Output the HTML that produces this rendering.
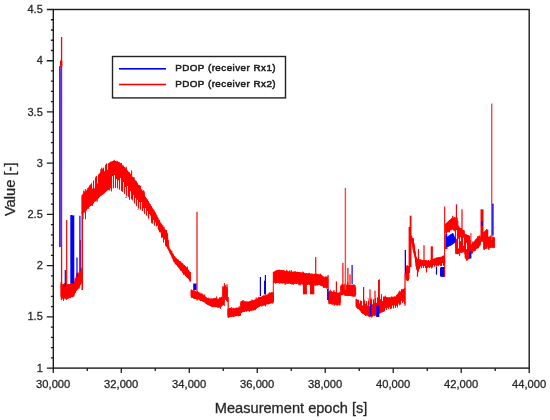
<!DOCTYPE html><html><head><meta charset="utf-8"><style>html,body{margin:0;padding:0;background:#fff;width:550px;height:420px;overflow:hidden}svg{display:block}text{font-family:"Liberation Sans",Arial,sans-serif;fill:#222;stroke:#333;stroke-width:0.3px}</style></head><body>
<svg width="550" height="420" viewBox="0 0 550 420">
<path d="M59.2,66.1 L59.7,66.2 L60.2,66.1 L60.7,66.0 L60.7,246.9 L60.2,246.9 L59.7,247.0 L59.2,247.0Z" fill="#00f"/>
<path d="M70.3,215.0 L70.8,215.0 L71.3,215.1 L71.8,215.0 L72.3,215.2 L72.8,215.2 L73.3,215.5 L73.8,215.4 L74.3,215.0 L74.3,286.7 L73.8,286.7 L73.3,286.7 L72.8,286.6 L72.3,286.3 L71.8,286.7 L71.3,286.4 L70.8,286.7 L70.3,286.6Z" fill="#00f"/>
<path d="M440.0,267.9 L440.5,267.9 L441.0,268.1 L441.5,268.1 L442.0,267.9 L442.5,268.1 L443.0,267.9 L443.5,268.0 L444.0,268.2 L444.5,267.9 L445.0,268.0 L445.0,276.0 L444.5,276.2 L444.0,276.2 L443.5,276.4 L443.0,276.2 L442.5,276.3 L442.0,276.4 L441.5,276.4 L441.0,276.3 L440.5,276.2 L440.0,276.1Z" fill="#00f"/>
<path d="M60.8,284.5 L61.3,285.0 L61.8,284.2 L62.3,284.0 L62.8,284.0 L63.3,284.6 L63.8,284.8 L64.3,284.5 L64.8,284.3 L65.3,284.7 L65.8,284.2 L66.3,284.0 L66.8,284.4 L67.3,284.7 L67.8,284.1 L68.3,284.0 L68.8,284.0 L69.3,284.0 L69.8,284.0 L70.3,284.1 L70.8,283.8 L71.3,284.0 L71.8,284.2 L72.3,283.5 L72.8,283.4 L73.3,284.1 L73.8,283.1 L74.3,282.0 L74.8,280.5 L75.3,278.5 L75.8,276.8 L76.3,276.5 L76.8,275.1 L77.3,274.6 L77.8,274.2 L78.3,273.5 L78.8,272.2 L79.3,271.3 L79.8,270.5 L80.3,269.7 L80.8,268.9 L81.3,267.9 L81.8,267.0 L81.8,282.9 L81.3,283.8 L80.8,284.7 L80.3,285.6 L79.8,286.5 L79.3,286.9 L78.8,287.8 L78.3,288.1 L77.8,288.8 L77.3,290.1 L76.8,290.5 L76.3,291.1 L75.8,292.1 L75.3,293.2 L74.8,294.3 L74.3,295.2 L73.8,296.1 L73.3,296.4 L72.8,296.0 L72.3,296.9 L71.8,296.6 L71.3,296.9 L70.8,297.8 L70.3,297.6 L69.8,298.5 L69.3,298.0 L68.8,298.6 L68.3,298.5 L67.8,298.3 L67.3,298.8 L66.8,297.9 L66.3,298.5 L65.8,298.6 L65.3,298.1 L64.8,298.8 L64.3,298.6 L63.8,298.9 L63.3,298.7 L62.8,298.6 L62.3,298.8 L61.8,298.4 L61.3,299.0 L60.8,298.9Z" fill="#f00"/>
<path d="M60.8,282.2 61.1,296.7 61.4,284.9 61.7,297.6 62.0,284.0 62.3,297.4 62.6,284.3 62.9,297.7 63.2,287.1 63.5,300.8 63.8,286.0 64.1,297.0 64.4,283.0 64.7,296.3 65.0,284.9 65.3,299.2 65.6,284.8 65.9,297.8 66.2,283.9 66.5,296.7 66.8,286.1 67.1,298.2 67.4,285.3 67.7,298.7 68.0,284.2 68.3,295.3 68.6,284.4 68.9,295.2 69.2,284.8 69.5,297.9 69.8,284.2 70.1,295.5 70.4,285.0 70.7,298.2 71.0,285.8 71.3,295.2 71.6,283.0 71.9,297.0 72.2,286.7 72.5,297.2 72.8,285.7 73.1,296.1 73.4,284.9 73.7,296.6 74.0,285.7 74.3,294.4 74.6,281.4 74.9,291.1 75.2,278.3 75.5,292.7 75.8,279.9 76.1,290.9 76.4,276.0 76.7,290.0 77.0,272.7 77.3,288.8 77.6,273.7 77.9,289.3 78.2,274.6 78.5,286.3 78.8,273.8 79.1,288.5 79.4,271.7 79.7,284.0 80.0,271.2 80.3,284.3 80.6,269.2 80.9,283.6 81.2,270.9 81.5,282.1 81.8,270.5" fill="none" stroke="#f00" stroke-width="0.8"/>
<path d="M81.8,195.9 L82.3,195.2 L82.8,194.6 L83.3,194.1 L83.8,193.8 L84.3,193.7 L84.8,192.5 L85.3,192.3 L85.8,191.1 L86.3,190.4 L86.8,189.8 L87.3,189.9 L87.8,188.5 L88.3,188.2 L88.8,187.7 L89.3,186.2 L89.8,185.5 L90.3,185.6 L90.8,183.9 L91.3,183.5 L91.8,182.6 L92.3,182.4 L92.8,181.5 L93.3,180.5 L93.8,180.2 L94.3,179.1 L94.8,179.2 L95.3,178.0 L95.8,177.3 L96.3,176.8 L96.8,176.3 L97.3,176.2 L97.8,175.0 L98.3,174.7 L98.8,173.8 L99.3,173.7 L99.8,172.7 L100.3,172.6 L100.8,171.6 L101.3,171.1 L101.8,170.6 L102.3,169.8 L102.8,168.8 L103.3,168.2 L103.8,167.1 L104.3,166.3 L104.8,165.6 L105.3,165.2 L105.8,164.2 L106.3,163.8 L106.8,163.6 L107.3,163.8 L107.8,163.1 L108.3,163.7 L108.8,163.2 L109.3,162.6 L109.8,162.2 L110.3,162.4 L110.8,161.9 L111.3,162.1 L111.8,161.6 L112.3,161.3 L112.8,161.1 L113.3,161.0 L113.8,160.8 L114.3,161.5 L114.8,160.9 L115.3,160.9 L115.8,160.9 L116.3,161.0 L116.8,161.9 L117.3,161.2 L117.8,161.6 L118.3,161.8 L118.8,162.3 L119.3,162.4 L119.8,162.7 L120.3,163.0 L120.8,163.2 L121.3,163.6 L121.8,164.3 L122.3,165.0 L122.8,165.4 L123.3,165.5 L123.8,166.8 L124.3,166.9 L124.8,166.8 L125.3,168.2 L125.8,168.5 L126.3,168.6 L126.8,169.5 L127.3,170.5 L127.8,170.8 L128.3,171.5 L128.8,171.7 L129.3,172.3 L129.8,172.9 L130.3,173.9 L130.8,174.6 L131.3,175.1 L131.8,176.1 L132.3,176.4 L132.8,177.2 L133.3,177.9 L133.8,178.0 L134.3,179.2 L134.8,179.8 L135.3,180.1 L135.8,180.7 L136.3,181.7 L136.8,182.2 L137.3,182.5 L137.8,183.8 L138.3,184.4 L138.8,184.9 L139.3,186.1 L139.8,186.9 L140.3,187.5 L140.8,188.3 L141.3,189.6 L141.8,190.6 L142.3,190.6 L142.8,192.1 L143.3,192.5 L143.8,193.2 L144.3,194.0 L144.8,194.9 L145.3,196.6 L145.8,197.3 L146.3,198.2 L146.8,198.4 L147.3,199.4 L147.8,200.0 L148.3,201.1 L148.8,201.7 L149.3,202.6 L149.8,203.4 L150.3,204.9 L150.8,205.9 L151.3,206.6 L151.8,206.8 L152.3,208.4 L152.8,208.4 L153.3,209.2 L153.8,209.9 L154.3,210.8 L154.8,211.6 L155.3,212.6 L155.8,213.3 L156.3,215.0 L156.8,215.6 L157.3,217.0 L157.8,217.7 L158.3,218.7 L158.8,219.7 L159.3,220.2 L159.8,221.9 L160.3,222.2 L160.8,223.1 L161.3,224.9 L161.8,225.3 L162.3,226.1 L162.8,226.5 L163.3,227.0 L163.8,227.8 L164.3,228.9 L164.8,228.9 L165.3,229.3 L165.8,229.9 L166.3,230.6 L166.8,231.8 L167.3,233.0 L167.8,235.2 L168.3,240.1 L168.8,245.0 L169.3,248.4 L169.8,248.6 L170.3,249.9 L170.8,250.0 L171.3,250.9 L171.8,252.5 L172.3,253.2 L172.8,253.2 L173.3,254.9 L173.8,255.2 L174.3,255.9 L174.8,256.9 L175.3,257.7 L175.8,257.2 L176.3,258.0 L176.8,259.1 L177.3,259.2 L177.8,259.5 L178.3,259.8 L178.8,260.3 L179.3,261.2 L179.8,261.3 L180.3,262.2 L180.8,262.3 L181.3,263.1 L181.8,263.3 L182.3,263.9 L182.8,264.0 L183.3,265.2 L183.8,265.4 L184.3,265.0 L184.8,266.3 L185.3,265.8 L185.8,266.4 L186.3,266.9 L186.8,267.8 L187.3,268.0 L187.8,268.6 L188.3,269.6 L188.8,270.4 L189.3,270.6 L189.8,271.9 L190.3,272.2 L190.3,281.5 L189.8,280.8 L189.3,280.3 L188.8,279.2 L188.3,279.1 L187.8,278.3 L187.3,277.9 L186.8,276.5 L186.3,276.7 L185.8,275.7 L185.3,275.6 L184.8,274.5 L184.3,274.4 L183.8,273.7 L183.3,273.0 L182.8,272.7 L182.3,272.4 L181.8,271.8 L181.3,270.9 L180.8,270.7 L180.3,269.6 L179.8,269.4 L179.3,268.8 L178.8,267.4 L178.3,267.1 L177.8,266.8 L177.3,265.9 L176.8,265.4 L176.3,264.8 L175.8,264.7 L175.3,264.0 L174.8,262.8 L174.3,262.0 L173.8,261.8 L173.3,260.4 L172.8,259.0 L172.3,258.4 L171.8,256.6 L171.3,256.0 L170.8,255.0 L170.3,253.9 L169.8,252.4 L169.3,251.7 L168.8,250.5 L168.3,249.4 L167.8,248.2 L167.3,247.6 L166.8,246.7 L166.3,247.1 L165.8,246.6 L165.3,245.6 L164.8,244.6 L164.3,242.7 L163.8,242.7 L163.3,240.9 L162.8,240.8 L162.3,239.6 L161.8,238.3 L161.3,236.9 L160.8,235.0 L160.3,234.1 L159.8,232.8 L159.3,231.7 L158.8,230.4 L158.3,229.8 L157.8,229.2 L157.3,228.1 L156.8,226.7 L156.3,226.0 L155.8,225.0 L155.3,225.3 L154.8,224.7 L154.3,223.4 L153.8,223.1 L153.3,223.3 L152.8,222.6 L152.3,222.0 L151.8,221.6 L151.3,221.2 L150.8,220.3 L150.3,220.3 L149.8,219.2 L149.3,218.6 L148.8,218.7 L148.3,218.2 L147.8,217.5 L147.3,217.2 L146.8,215.9 L146.3,215.6 L145.8,215.3 L145.3,215.1 L144.8,214.3 L144.3,213.7 L143.8,212.4 L143.3,212.5 L142.8,211.0 L142.3,211.0 L141.8,209.7 L141.3,209.9 L140.8,209.6 L140.3,209.0 L139.8,208.8 L139.3,208.1 L138.8,208.2 L138.3,207.9 L137.8,207.5 L137.3,207.1 L136.8,206.7 L136.3,205.6 L135.8,204.7 L135.3,204.3 L134.8,202.7 L134.3,202.9 L133.8,202.1 L133.3,201.4 L132.8,200.8 L132.3,200.1 L131.8,199.3 L131.3,199.5 L130.8,198.5 L130.3,198.2 L129.8,197.4 L129.3,197.5 L128.8,197.2 L128.3,196.4 L127.8,195.8 L127.3,195.6 L126.8,195.3 L126.3,195.4 L125.8,194.8 L125.3,194.8 L124.8,194.1 L124.3,193.8 L123.8,193.6 L123.3,193.0 L122.8,191.8 L122.3,191.6 L121.8,191.2 L121.3,190.9 L120.8,190.7 L120.3,190.2 L119.8,190.1 L119.3,189.6 L118.8,189.3 L118.3,189.2 L117.8,188.9 L117.3,187.8 L116.8,188.3 L116.3,187.5 L115.8,188.2 L115.3,188.0 L114.8,188.1 L114.3,187.6 L113.8,187.3 L113.3,188.1 L112.8,187.8 L112.3,188.4 L111.8,188.4 L111.3,188.3 L110.8,188.1 L110.3,188.0 L109.8,188.9 L109.3,188.8 L108.8,189.7 L108.3,190.2 L107.8,190.3 L107.3,190.6 L106.8,191.2 L106.3,191.6 L105.8,191.9 L105.3,192.3 L104.8,192.8 L104.3,193.4 L103.8,193.9 L103.3,194.3 L102.8,194.9 L102.3,194.5 L101.8,195.8 L101.3,195.6 L100.8,196.1 L100.3,196.6 L99.8,196.7 L99.3,197.8 L98.8,198.4 L98.3,198.4 L97.8,198.6 L97.3,199.9 L96.8,199.6 L96.3,200.9 L95.8,200.9 L95.3,201.9 L94.8,201.5 L94.3,202.0 L93.8,203.2 L93.3,203.8 L92.8,204.2 L92.3,204.9 L91.8,205.2 L91.3,205.7 L90.8,206.1 L90.3,206.0 L89.8,207.0 L89.3,206.8 L88.8,207.3 L88.3,208.7 L87.8,208.7 L87.3,209.0 L86.8,210.0 L86.3,211.1 L85.8,211.7 L85.3,212.6 L84.8,212.1 L84.3,212.9 L83.8,212.2 L83.3,212.1 L82.8,212.7 L82.3,212.5 L81.8,212.7Z" fill="#f00"/>
<path d="M81.8,195.2 82.1,213.9 82.4,197.1 82.7,212.1 83.0,194.0 83.3,212.4 83.6,190.7 83.9,212.3 84.2,193.1 84.5,210.3 84.8,191.5 85.1,208.0 85.4,189.0 85.7,208.1 86.0,194.2 86.3,209.3 86.6,191.0 86.9,208.9 87.2,194.3 87.5,204.6 87.8,188.3 88.1,204.7 88.4,187.6 88.7,208.6 89.0,187.5 89.3,202.9 89.6,185.8 89.9,202.9 90.2,184.9 90.5,201.4 90.8,184.9 91.1,204.1 91.4,187.8 91.7,204.8 92.0,184.0 92.3,206.0 92.6,185.9 92.9,198.8 93.2,181.7 93.5,201.1 93.8,182.0 94.1,200.8 94.4,184.6 94.7,198.9 95.0,181.4 95.3,198.4 95.6,179.4 95.9,196.6 96.2,176.4 96.5,199.2 96.8,175.9 97.1,201.5 97.4,175.7 97.7,197.9 98.0,175.0 98.3,194.7 98.6,175.3 98.9,195.3 99.2,175.2 99.5,193.7 99.8,177.9 100.1,193.9 100.4,176.7 100.7,195.3 101.0,169.0 101.3,192.8 101.6,167.8 101.9,192.6 102.2,173.9 102.5,188.8 102.8,169.2 103.1,191.8 103.4,168.0 103.7,193.2 104.0,172.6 104.3,187.2 104.6,171.5 104.9,192.5 105.2,171.4 105.5,188.7 105.8,165.4 106.1,190.7 106.4,164.7 106.7,186.8 107.0,163.4 107.3,186.2 107.6,165.3 107.9,185.4 108.2,163.3 108.5,187.7 108.8,166.9 109.1,189.5 109.4,165.0 109.7,190.5 110.0,163.5 110.3,186.6 110.6,161.8 110.9,186.3 111.2,166.5 111.5,191.3 111.8,161.6 112.1,188.2 112.4,164.3 112.7,188.6 113.0,161.3 113.3,188.2 113.6,163.0 113.9,187.1 114.2,159.9 114.5,187.6 114.8,161.0 115.1,186.9 115.4,161.8 115.7,185.0 116.0,167.1 116.3,182.8 116.6,166.6 116.9,183.2 117.2,160.8 117.5,183.2 117.8,162.8 118.1,185.7 118.4,162.7 118.7,187.2 119.0,161.9 119.3,184.6 119.6,168.3 119.9,186.4 120.2,167.1 120.5,188.1 120.8,165.0 121.1,187.9 121.4,162.9 121.7,188.0 122.0,167.2 122.3,188.8 122.6,168.0 122.9,191.9 123.2,165.7 123.5,189.8 123.8,170.3 124.1,190.4 124.4,170.0 124.7,191.2 125.0,173.7 125.3,193.3 125.6,170.1 125.9,198.0 126.2,166.8 126.5,189.7 126.8,170.1 127.1,195.8 127.4,174.9 127.7,190.7 128.0,176.0 128.3,196.4 128.6,172.7 128.9,194.1 129.2,172.4 129.5,199.7 129.8,173.6 130.1,198.7 130.4,174.0 130.7,195.0 131.0,179.3 131.3,198.1 131.6,170.6 131.9,196.2 132.2,180.8 132.5,195.0 132.8,177.1 133.1,198.5 133.4,182.0 133.7,197.1 134.0,177.1 134.3,200.1 134.6,180.9 134.9,203.6 135.2,183.3 135.5,204.0 135.8,181.3 136.1,201.6 136.4,181.2 136.7,205.9 137.0,182.8 137.3,203.6 137.6,186.5 137.9,209.6 138.2,185.4 138.5,208.0 138.8,188.0 139.1,206.1 139.4,185.0 139.7,205.7 140.0,190.2 140.3,205.1 140.6,185.9 140.9,209.7 141.2,190.8 141.5,211.0 141.8,189.3 142.1,206.1 142.4,191.1 142.7,209.7 143.0,195.9 143.3,211.1 143.6,190.3 143.9,210.3 144.2,191.6 144.5,210.7 144.8,198.3 145.1,213.8 145.4,197.0 145.7,214.8 146.0,198.1 146.3,212.8 146.6,200.4 146.9,213.4 147.2,199.5 147.5,213.1 147.8,203.9 148.1,216.9 148.4,201.2 148.7,215.5 149.0,205.7 149.3,220.0 149.6,204.8 149.9,219.4 150.2,204.1 150.5,219.0 150.8,205.8 151.1,218.9 151.4,206.3 151.7,223.0 152.0,207.5 152.3,223.6 152.6,209.2 152.9,222.8 153.2,210.9 153.5,221.7 153.8,209.8 154.1,223.8 154.4,211.8 154.7,225.6 155.0,212.6 155.3,225.0 155.6,213.2 155.9,224.2 156.2,214.7 156.5,225.1 156.8,215.5 157.1,225.7 157.4,217.2 157.7,229.0 158.0,217.7 158.3,228.9 158.6,221.4 158.9,228.8 159.2,219.9 159.5,231.4 159.8,221.5 160.1,232.0 160.4,224.9 160.7,232.7 161.0,223.3 161.3,236.3 161.6,224.3 161.9,237.8 162.2,226.1 162.5,240.0 162.8,224.9 163.1,240.3 163.4,229.5 163.7,242.5 164.0,226.8 164.3,241.9 164.6,230.9 164.9,243.3 165.2,232.7 165.5,242.3 165.8,230.6 166.1,243.4 166.4,230.1 166.7,246.6 167.0,232.8 167.3,245.3 167.6,234.3 167.9,249.1 168.2,240.0 168.5,249.6 168.8,245.9 169.1,251.1 169.4,248.6 169.7,252.4 170.0,248.9 170.3,253.7 170.6,249.9 170.9,254.6 171.2,251.0 171.5,255.5 171.8,250.7 172.1,257.8 172.4,253.5 172.7,258.2 173.0,253.6 173.3,260.5 173.6,255.2 173.9,261.7 174.2,256.7 174.5,262.0 174.8,256.3 175.1,263.4 175.4,258.4 175.7,263.9 176.0,258.2 176.3,264.6 176.6,259.1 176.9,264.6 177.2,259.8 177.5,266.3 177.8,259.4 178.1,266.2 178.4,261.1 178.7,267.4 179.0,261.7 179.3,268.4 179.6,261.1 179.9,268.0 180.2,261.1 180.5,270.4 180.8,261.9 181.1,269.1 181.4,262.9 181.7,270.9 182.0,264.1 182.3,270.6 182.6,263.1 182.9,272.8 183.2,264.4 183.5,274.7 183.8,265.5 184.1,273.7 184.4,265.0 184.7,274.3 185.0,266.3 185.3,275.5 185.6,268.1 185.9,276.3 186.2,267.6 186.5,277.2 186.8,269.0 187.1,276.7 187.4,266.7 187.7,277.8 188.0,269.8 188.3,278.0 188.6,270.9 188.9,277.8 189.2,272.3 189.5,279.6 189.8,272.0 190.1,281.7 190.4,272.3 190.7,281.3" fill="none" stroke="#f00" stroke-width="0.8"/>
<path d="M190.9,289.2 L191.4,289.7 L191.9,290.3 L192.4,289.7 L192.9,290.7 L193.4,290.1 L193.9,290.7 L194.4,290.5 L194.9,291.2 L195.4,291.0 L195.9,291.2 L196.4,291.5 L196.9,292.4 L197.4,291.9 L197.9,292.4 L198.4,292.7 L198.9,293.1 L199.4,292.8 L199.9,293.2 L200.4,293.4 L200.9,293.7 L201.4,293.7 L201.9,294.2 L202.4,294.5 L202.9,294.9 L203.4,295.3 L203.9,295.3 L204.4,295.9 L204.9,296.5 L205.4,296.5 L205.9,297.6 L206.4,297.5 L206.9,297.4 L207.4,298.2 L207.9,298.2 L208.4,298.7 L208.9,299.4 L209.4,299.0 L209.9,298.5 L210.4,298.4 L210.9,298.5 L211.4,298.2 L211.9,298.2 L212.4,298.7 L212.9,298.6 L213.4,298.2 L213.9,298.3 L214.4,298.5 L214.9,298.3 L215.4,298.3 L215.9,298.7 L216.4,298.3 L216.9,299.2 L217.4,298.5 L217.9,298.5 L218.4,299.4 L218.9,298.8 L219.4,298.9 L219.9,298.1 L220.4,297.9 L220.9,297.5 L220.9,307.5 L220.4,307.3 L219.9,307.3 L219.4,307.5 L218.9,307.3 L218.4,307.6 L217.9,307.8 L217.4,307.7 L216.9,307.4 L216.4,307.1 L215.9,306.9 L215.4,307.1 L214.9,307.3 L214.4,306.6 L213.9,306.2 L213.4,307.0 L212.9,306.8 L212.4,306.8 L211.9,306.4 L211.4,306.4 L210.9,305.8 L210.4,306.0 L209.9,305.4 L209.4,305.6 L208.9,305.8 L208.4,305.3 L207.9,304.3 L207.4,304.0 L206.9,304.1 L206.4,303.8 L205.9,303.8 L205.4,303.3 L204.9,302.4 L204.4,302.5 L203.9,301.7 L203.4,301.3 L202.9,301.5 L202.4,301.4 L201.9,301.0 L201.4,300.7 L200.9,300.5 L200.4,299.7 L199.9,299.8 L199.4,299.7 L198.9,299.4 L198.4,299.1 L197.9,299.2 L197.4,298.9 L196.9,298.9 L196.4,299.4 L195.9,298.7 L195.4,299.1 L194.9,299.0 L194.4,298.0 L193.9,298.8 L193.4,298.0 L192.9,297.9 L192.4,297.7 L191.9,297.5 L191.4,298.0 L190.9,297.6Z" fill="#f00"/>
<path d="M190.9,290.4 191.2,296.4 191.5,289.7 191.8,297.4 192.1,290.9 192.4,297.1 192.7,291.0 193.0,297.9 193.3,290.7 193.6,298.3 193.9,290.2 194.2,298.8 194.5,292.1 194.8,297.1 195.1,290.8 195.4,298.9 195.7,293.0 196.0,298.5 196.3,292.7 196.6,299.2 196.9,291.3 197.2,300.4 197.5,291.1 197.8,299.5 198.1,293.5 198.4,298.5 198.7,291.9 199.0,299.3 199.3,294.0 199.6,299.4 199.9,292.6 200.2,300.9 200.5,294.5 200.8,300.7 201.1,294.9 201.4,300.4 201.7,293.2 202.0,300.3 202.3,294.7 202.6,301.0 202.9,294.3 203.2,301.5 203.5,296.1 203.8,302.1 204.1,296.6 204.4,301.8 204.7,294.6 205.0,302.5 205.3,296.7 205.6,302.4 205.9,297.8 206.2,303.9 206.5,297.5 206.8,304.1 207.1,299.0 207.4,304.9 207.7,298.5 208.0,304.5 208.3,297.7 208.6,304.9 208.9,299.6 209.2,304.8 209.5,298.6 209.8,305.4 210.1,298.7 210.4,306.2 210.7,300.1 211.0,305.4 211.3,299.1 211.6,306.5 211.9,299.7 212.2,307.2 212.5,299.7 212.8,306.5 213.1,299.8 213.4,306.2 213.7,298.4 214.0,307.1 214.3,298.7 214.6,306.5 214.9,298.5 215.2,305.1 215.5,298.1 215.8,305.7 216.1,299.6 216.4,306.4 216.7,296.5 217.0,305.8 217.3,299.8 217.6,306.0 217.9,300.0 218.2,307.2 218.5,299.2 218.8,307.5 219.1,298.5 219.4,307.3 219.7,297.2 220.0,305.4 220.3,298.9 220.6,308.6 220.9,297.5 221.0,307.1" fill="none" stroke="#f00" stroke-width="0.8"/>
<path d="M221.1,296.8 L221.6,296.5 L222.1,297.0 L222.1,305.3 L221.6,306.6 L221.1,306.8Z" fill="#f00"/>
<path d="M221.1,297.0 221.4,306.1 221.7,297.0 222.0,304.2 222.3,297.5 222.5,305.8" fill="none" stroke="#f00" stroke-width="0.8"/>
<path d="M222.6,286.0 L223.1,286.6 L223.6,286.5 L224.1,286.3 L224.1,304.6 L223.6,305.4 L223.1,304.9 L222.6,306.0Z" fill="#f00"/>
<path d="M222.6,286.5 222.9,304.6 223.2,288.4 223.5,304.4 223.8,289.3 224.1,301.8 224.4,283.1 224.5,306.1" fill="none" stroke="#f00" stroke-width="0.8"/>
<path d="M224.6,286.8 L225.1,286.2 L225.6,286.3 L226.1,287.2 L226.6,286.9 L227.1,287.5 L227.6,287.4 L227.6,301.0 L227.1,300.6 L226.6,300.6 L226.1,300.1 L225.6,299.5 L225.1,300.0 L224.6,299.2Z" fill="#f00"/>
<path d="M224.6,286.8 224.9,297.8 225.2,284.9 225.5,299.4 225.8,286.9 226.1,297.6 226.4,287.0 226.7,301.0 227.0,284.4 227.3,302.0 227.6,289.3" fill="none" stroke="#f00" stroke-width="0.8"/>
<path d="M227.8,308.6 L228.3,308.4 L228.8,308.5 L229.3,309.3 L229.8,308.3 L230.3,309.0 L230.8,308.7 L231.3,309.1 L231.8,308.8 L232.3,308.1 L232.8,308.8 L233.3,308.1 L233.8,308.8 L234.3,308.3 L234.8,307.9 L235.3,308.3 L235.8,307.7 L236.3,308.0 L236.8,307.6 L237.3,307.9 L237.8,308.1 L238.3,307.4 L238.8,307.8 L239.3,307.7 L239.8,307.8 L240.3,307.7 L240.3,315.3 L239.8,315.9 L239.3,316.1 L238.8,315.9 L238.3,316.1 L237.8,315.8 L237.3,315.7 L236.8,316.2 L236.3,316.0 L235.8,316.3 L235.3,316.3 L234.8,315.8 L234.3,316.4 L233.8,316.4 L233.3,316.4 L232.8,316.4 L232.3,316.8 L231.8,316.8 L231.3,317.1 L230.8,317.1 L230.3,317.3 L229.8,317.3 L229.3,316.7 L228.8,316.7 L228.3,317.7 L227.8,317.8Z" fill="#f00"/>
<path d="M227.8,309.6 228.1,315.8 228.4,310.4 228.7,317.9 229.0,309.2 229.3,316.9 229.6,308.1 229.9,316.5 230.2,308.0 230.5,316.2 230.8,308.4 231.1,316.7 231.4,307.2 231.7,314.9 232.0,309.1 232.3,315.6 232.6,310.2 232.9,316.3 233.2,307.7 233.5,316.5 233.8,309.5 234.1,316.5 234.4,309.0 234.7,314.9 235.0,309.2 235.3,316.2 235.6,308.7 235.9,315.7 236.2,308.5 236.5,315.7 236.8,307.7 237.1,314.6 237.4,307.8 237.7,315.4 238.0,309.1 238.3,316.3 238.6,309.0 238.9,315.6 239.2,306.4 239.5,315.2 239.8,307.9 240.1,316.0 240.4,307.7 240.5,315.5" fill="none" stroke="#f00" stroke-width="0.8"/>
<path d="M240.6,301.9 L241.1,301.8 L241.6,301.6 L242.1,301.4 L242.6,302.3 L243.1,302.2 L243.6,302.0 L244.1,302.1 L244.6,301.7 L245.1,301.7 L245.6,301.5 L246.1,301.5 L246.6,301.4 L247.1,302.0 L247.6,301.2 L248.1,301.0 L248.6,301.9 L249.1,301.0 L249.6,301.1 L250.1,300.8 L250.6,300.8 L251.1,300.7 L251.6,300.5 L252.1,301.1 L252.6,300.7 L253.1,300.3 L253.6,300.4 L254.1,300.3 L254.6,299.7 L255.1,299.4 L255.6,299.2 L256.1,298.8 L256.6,299.3 L257.1,298.5 L257.6,298.0 L258.1,297.8 L258.6,297.4 L259.1,297.9 L259.6,296.9 L260.1,296.9 L260.6,296.5 L261.1,297.2 L261.6,296.2 L262.1,296.1 L262.6,296.1 L263.1,296.3 L263.6,295.9 L264.1,295.8 L264.6,295.6 L265.1,295.7 L265.6,295.4 L266.1,295.0 L266.6,294.5 L267.1,294.4 L267.6,294.5 L268.1,294.1 L268.6,293.7 L269.1,293.8 L269.6,293.3 L270.1,293.1 L270.6,293.4 L271.1,292.8 L271.6,292.4 L272.1,292.2 L272.6,292.3 L273.1,292.7 L273.1,303.0 L272.6,303.2 L272.1,303.1 L271.6,303.5 L271.1,303.5 L270.6,303.1 L270.1,303.9 L269.6,303.9 L269.1,304.3 L268.6,304.3 L268.1,304.5 L267.6,304.0 L267.1,304.8 L266.6,304.2 L266.1,304.9 L265.6,305.4 L265.1,305.5 L264.6,305.1 L264.1,305.4 L263.6,305.2 L263.1,305.6 L262.6,305.2 L262.1,305.6 L261.6,306.0 L261.1,305.7 L260.6,306.3 L260.1,305.9 L259.6,306.4 L259.1,306.6 L258.6,307.1 L258.1,306.9 L257.6,306.8 L257.1,307.9 L256.6,308.5 L256.1,308.8 L255.6,308.9 L255.1,309.4 L254.6,309.9 L254.1,310.1 L253.6,310.4 L253.1,310.2 L252.6,310.4 L252.1,310.5 L251.6,310.6 L251.1,310.9 L250.6,310.8 L250.1,311.0 L249.6,311.1 L249.1,310.9 L248.6,310.9 L248.1,311.0 L247.6,311.0 L247.1,311.5 L246.6,311.5 L246.1,311.7 L245.6,311.0 L245.1,311.9 L244.6,312.0 L244.1,312.2 L243.6,311.5 L243.1,312.0 L242.6,311.9 L242.1,312.6 L241.6,312.5 L241.1,312.9 L240.6,312.9Z" fill="#f00"/>
<path d="M240.6,302.7 240.9,310.2 241.2,301.0 241.5,312.8 241.8,302.9 242.1,310.7 242.4,300.4 242.7,311.2 243.0,303.2 243.3,311.6 243.6,300.3 243.9,310.5 244.2,301.5 244.5,311.2 244.8,301.4 245.1,309.5 245.4,302.0 245.7,309.2 246.0,301.5 246.3,311.3 246.6,302.6 246.9,310.2 247.2,302.9 247.5,310.8 247.8,303.3 248.1,310.9 248.4,302.2 248.7,310.7 249.0,302.2 249.3,311.7 249.6,302.5 249.9,310.6 250.2,301.0 250.5,311.0 250.8,302.6 251.1,309.2 251.4,301.6 251.7,310.5 252.0,299.6 252.3,309.4 252.6,300.7 252.9,308.8 253.2,300.5 253.5,310.1 253.8,300.7 254.1,310.2 254.4,301.7 254.7,308.1 255.0,299.8 255.3,310.2 255.6,300.5 255.9,307.9 256.2,297.5 256.5,308.4 256.8,299.2 257.1,307.6 257.4,299.2 257.7,307.9 258.0,299.7 258.3,307.1 258.6,296.9 258.9,306.3 259.2,298.8 259.5,306.7 259.8,297.1 260.1,305.9 260.4,297.5 260.7,303.9 261.0,297.8 261.3,304.9 261.6,297.2 261.9,306.5 262.2,296.8 262.5,305.5 262.8,296.3 263.1,304.2 263.4,295.3 263.7,305.5 264.0,297.4 264.3,305.2 264.6,297.1 264.9,305.0 265.2,293.8 265.5,306.2 265.8,295.9 266.1,304.0 266.4,296.2 266.7,302.8 267.0,295.1 267.3,303.2 267.6,296.3 267.9,303.4 268.2,293.6 268.5,303.8 268.8,295.0 269.1,303.3 269.4,292.4 269.7,303.6 270.0,293.0 270.3,303.1 270.6,293.6 270.9,302.9 271.2,292.2 271.5,302.8 271.8,294.0 272.1,301.9 272.4,292.4 272.7,303.5 273.0,293.7 273.3,302.2 273.4,293.7" fill="none" stroke="#f00" stroke-width="0.8"/>
<path d="M273.5,272.1 L274.0,271.6 L274.5,271.0 L275.0,271.3 L275.5,270.6 L276.0,270.4 L276.5,270.3 L277.0,270.0 L277.5,270.2 L278.0,270.3 L278.5,269.9 L279.0,269.6 L279.5,269.6 L280.0,270.2 L280.5,269.7 L281.0,270.4 L281.5,269.8 L282.0,269.9 L282.5,270.0 L283.0,270.6 L283.5,270.6 L284.0,270.7 L284.5,270.3 L285.0,271.2 L285.5,271.3 L286.0,271.1 L286.5,271.0 L287.0,270.7 L287.5,270.9 L288.0,271.7 L288.5,271.5 L289.0,271.5 L289.5,271.2 L290.0,272.1 L290.5,271.5 L291.0,271.3 L291.5,271.6 L292.0,271.5 L292.5,272.0 L293.0,271.6 L293.5,271.8 L294.0,272.5 L294.5,271.7 L295.0,271.7 L295.5,271.8 L296.0,272.0 L296.5,271.8 L297.0,272.1 L297.5,272.4 L298.0,271.9 L298.5,272.0 L299.0,271.9 L299.5,272.0 L300.0,272.2 L300.5,272.2 L301.0,272.3 L301.5,272.2 L302.0,273.3 L302.5,272.4 L303.0,273.4 L303.5,272.6 L304.0,272.8 L304.5,273.0 L305.0,273.6 L305.5,273.3 L306.0,273.3 L306.5,273.0 L307.0,273.0 L307.5,273.7 L308.0,273.1 L308.5,273.8 L309.0,273.2 L309.5,273.9 L310.0,273.3 L310.5,273.9 L311.0,273.4 L311.5,273.4 L312.0,273.4 L312.5,273.7 L313.0,274.1 L313.5,274.3 L314.0,273.7 L314.5,273.5 L315.0,273.9 L315.5,274.1 L316.0,273.8 L316.5,273.7 L317.0,274.0 L317.5,274.4 L318.0,274.7 L318.5,274.7 L319.0,274.2 L319.5,274.5 L320.0,274.4 L320.5,275.0 L321.0,275.6 L321.5,275.1 L322.0,275.6 L322.5,275.6 L323.0,275.9 L323.5,277.0 L324.0,277.0 L324.5,277.4 L325.0,277.2 L325.5,277.0 L326.0,276.7 L326.5,277.6 L327.0,277.2 L327.5,277.0 L328.0,276.9 L328.0,288.5 L327.5,287.6 L327.0,288.1 L326.5,287.9 L326.0,287.6 L325.5,287.5 L325.0,287.7 L324.5,287.2 L324.0,286.4 L323.5,286.2 L323.0,286.5 L322.5,286.4 L322.0,286.0 L321.5,285.7 L321.0,285.6 L320.5,284.6 L320.0,284.8 L319.5,284.9 L319.0,284.7 L318.5,285.1 L318.0,284.6 L317.5,285.4 L317.0,285.5 L316.5,285.6 L316.0,284.7 L315.5,285.7 L315.0,285.6 L314.5,285.5 L314.0,285.3 L313.5,284.7 L313.0,285.0 L312.5,285.1 L312.0,285.4 L311.5,284.7 L311.0,285.1 L310.5,285.2 L310.0,285.3 L309.5,284.7 L309.0,284.6 L308.5,284.3 L308.0,284.8 L307.5,285.0 L307.0,284.5 L306.5,285.0 L306.0,285.0 L305.5,284.1 L305.0,284.5 L304.5,284.9 L304.0,284.8 L303.5,284.5 L303.0,284.4 L302.5,284.1 L302.0,284.0 L301.5,284.5 L301.0,284.4 L300.5,284.1 L300.0,284.3 L299.5,283.8 L299.0,284.2 L298.5,284.3 L298.0,284.2 L297.5,283.6 L297.0,284.1 L296.5,283.9 L296.0,283.7 L295.5,283.6 L295.0,284.0 L294.5,283.5 L294.0,284.2 L293.5,284.1 L293.0,284.2 L292.5,283.9 L292.0,284.3 L291.5,284.3 L291.0,284.1 L290.5,284.1 L290.0,283.8 L289.5,283.8 L289.0,283.4 L288.5,284.0 L288.0,283.9 L287.5,283.6 L287.0,283.4 L286.5,283.6 L286.0,283.1 L285.5,283.2 L285.0,283.5 L284.5,283.6 L284.0,282.9 L283.5,283.3 L283.0,283.4 L282.5,282.6 L282.0,282.7 L281.5,283.2 L281.0,282.9 L280.5,283.2 L280.0,282.5 L279.5,283.1 L279.0,282.6 L278.5,282.9 L278.0,282.7 L277.5,283.0 L277.0,282.9 L276.5,282.9 L276.0,283.0 L275.5,283.0 L275.0,282.5 L274.5,282.2 L274.0,283.0 L273.5,282.9Z" fill="#f00"/>
<path d="M273.5,273.3 273.8,283.1 274.1,272.0 274.4,281.9 274.7,272.5 275.0,282.7 275.3,273.2 275.6,283.7 275.9,271.2 276.2,281.3 276.5,271.5 276.8,282.5 277.1,270.1 277.4,281.1 277.7,271.0 278.0,282.6 278.3,270.5 278.6,280.4 278.9,271.9 279.2,283.7 279.5,270.8 279.8,280.1 280.1,272.2 280.4,280.5 280.7,270.4 281.0,283.4 281.3,270.4 281.6,281.0 281.9,272.4 282.2,280.6 282.5,271.3 282.8,283.5 283.1,270.2 283.4,282.1 283.7,270.5 284.0,282.7 284.3,272.6 284.6,281.6 284.9,270.9 285.2,284.8 285.5,272.7 285.8,283.2 286.1,273.0 286.4,283.4 286.7,269.8 287.0,283.4 287.3,271.0 287.6,282.7 287.9,273.5 288.2,282.6 288.5,274.0 288.8,282.9 289.1,271.0 289.4,281.5 289.7,270.4 290.0,282.0 290.3,272.8 290.6,281.5 290.9,273.7 291.2,284.1 291.5,270.3 291.8,282.4 292.1,271.9 292.4,283.0 292.7,272.7 293.0,284.5 293.3,272.6 293.6,284.6 293.9,271.7 294.2,282.2 294.5,272.3 294.8,283.7 295.1,271.0 295.4,281.2 295.7,272.5 296.0,282.2 296.3,273.3 296.6,283.2 296.9,272.7 297.2,281.8 297.5,271.8 297.8,282.1 298.1,273.8 298.4,282.6 298.7,272.1 299.0,285.1 299.3,273.4 299.6,283.6 299.9,273.1 300.2,285.4 300.5,273.4 300.8,282.7 301.1,272.7 301.4,283.6 301.7,274.2 302.0,281.7 302.3,274.9 302.6,284.4 302.9,271.7 303.2,284.3 303.5,272.3 303.8,284.7 304.1,275.4 304.4,284.1 304.7,273.2 305.0,282.8 305.3,274.0 305.6,284.2 305.9,274.9 306.2,284.4 306.5,274.8 306.8,283.7 307.1,274.0 307.4,284.7 307.7,275.2 308.0,282.4 308.3,273.2 308.6,283.3 308.9,275.1 309.2,285.1 309.5,272.9 309.8,284.4 310.1,275.0 310.4,283.9 310.7,275.8 311.0,282.4 311.3,274.4 311.6,284.4 311.9,273.8 312.2,283.1 312.5,275.8 312.8,284.1 313.1,274.6 313.4,283.7 313.7,275.7 314.0,284.0 314.3,275.8 314.6,284.9 314.9,274.9 315.2,285.5 315.5,274.0 315.8,284.6 316.1,275.9 316.4,282.7 316.7,276.0 317.0,285.4 317.3,273.9 317.6,283.8 317.9,276.6 318.2,284.9 318.5,274.3 318.8,284.7 319.1,276.3 319.4,282.5 319.7,275.9 320.0,282.9 320.3,273.7 320.6,285.5 320.9,274.5 321.2,285.5 321.5,275.0 321.8,286.1 322.1,277.5 322.4,285.8 322.7,276.3 323.0,286.1 323.3,277.6 323.6,287.9 323.9,276.5 324.2,287.9 324.5,278.8 324.8,286.3 325.1,277.3 325.4,287.5 325.7,276.5 326.0,286.3 326.3,276.8 326.6,288.6 326.9,276.9 327.2,285.8 327.5,276.9 327.8,287.6 328.1,275.0 328.4,289.8" fill="none" stroke="#f00" stroke-width="0.8"/>
<path d="M328.5,290.7 L329.0,290.8 L329.5,291.3 L330.0,291.1 L330.5,291.6 L331.0,292.1 L331.5,291.3 L332.0,291.8 L332.5,291.7 L333.0,291.7 L333.5,291.6 L334.0,291.8 L334.5,291.8 L335.0,291.9 L335.5,292.0 L336.0,292.1 L336.5,292.4 L337.0,292.4 L337.5,293.2 L338.0,292.5 L338.5,293.3 L339.0,292.7 L339.5,292.8 L340.0,292.8 L340.5,293.1 L340.5,305.4 L340.0,305.4 L339.5,305.6 L339.0,305.5 L338.5,304.9 L338.0,304.5 L337.5,305.2 L337.0,305.0 L336.5,305.2 L336.0,304.6 L335.5,304.6 L335.0,304.9 L334.5,304.8 L334.0,304.2 L333.5,303.9 L333.0,304.8 L332.5,304.7 L332.0,304.7 L331.5,304.0 L331.0,304.6 L330.5,303.8 L330.0,303.6 L329.5,304.4 L329.0,304.3 L328.5,303.8Z" fill="#f00"/>
<path d="M328.5,291.9 328.8,302.4 329.1,292.4 329.4,304.0 329.7,293.1 330.0,303.1 330.3,289.8 330.6,303.3 330.9,292.5 331.2,301.3 331.5,291.1 331.8,304.1 332.1,292.6 332.4,304.1 332.7,293.2 333.0,301.8 333.3,293.9 333.6,302.9 333.9,290.1 334.2,305.6 334.5,294.4 334.8,305.0 335.1,292.2 335.4,302.7 335.7,294.3 336.0,303.7 336.3,294.3 336.6,303.4 336.9,292.6 337.2,305.8 337.5,293.1 337.8,303.8 338.1,293.2 338.4,302.6 338.7,294.0 339.0,302.9 339.3,291.9 339.6,304.4 339.9,293.6 340.2,302.9 340.5,292.8" fill="none" stroke="#f00" stroke-width="0.8"/>
<path d="M340.6,285.0 L341.1,284.3 L341.6,284.4 L342.1,285.0 L342.6,284.6 L343.1,284.6 L343.6,284.9 L344.1,284.7 L344.6,285.1 L345.1,285.0 L345.6,284.8 L346.1,284.7 L346.6,284.7 L347.1,284.6 L347.6,284.6 L348.1,285.2 L348.6,284.8 L349.1,285.4 L349.6,285.1 L350.1,284.8 L350.6,285.4 L351.1,284.9 L351.6,285.0 L352.1,285.3 L352.6,285.0 L353.1,285.5 L353.6,285.0 L354.1,285.8 L354.6,285.9 L355.1,285.1 L355.6,285.1 L355.6,297.0 L355.1,296.5 L354.6,296.3 L354.1,296.7 L353.6,296.4 L353.1,296.5 L352.6,296.2 L352.1,296.4 L351.6,296.3 L351.1,296.4 L350.6,295.9 L350.1,296.1 L349.6,295.4 L349.1,296.1 L348.6,296.0 L348.1,295.9 L347.6,295.9 L347.1,295.5 L346.6,295.8 L346.1,295.6 L345.6,295.6 L345.1,295.5 L344.6,295.5 L344.1,294.8 L343.6,295.2 L343.1,294.3 L342.6,295.3 L342.1,294.9 L341.6,295.0 L341.1,295.0 L340.6,295.0Z" fill="#f00"/>
<path d="M340.6,286.3 340.9,293.7 341.2,286.0 341.5,295.2 341.8,285.5 342.1,293.0 342.4,284.2 342.7,294.2 343.0,284.7 343.3,294.0 343.6,285.5 343.9,293.7 344.2,285.7 344.5,295.2 344.8,283.6 345.1,295.3 345.4,286.4 345.7,295.9 346.0,286.4 346.3,296.0 346.6,285.5 346.9,293.8 347.2,287.1 347.5,295.1 347.8,282.3 348.1,295.2 348.4,285.5 348.7,293.8 349.0,286.1 349.3,296.0 349.6,286.2 349.9,293.8 350.2,285.3 350.5,294.8 350.8,286.0 351.1,294.7 351.4,287.1 351.7,294.0 352.0,284.9 352.3,295.0 352.6,286.5 352.9,296.5 353.2,285.1 353.5,294.5 353.8,284.3 354.1,296.5 354.4,285.0 354.7,295.0 355.0,287.5 355.3,295.2 355.6,287.5 355.8,294.7" fill="none" stroke="#f00" stroke-width="0.8"/>
<path d="M355.9,298.5 L356.4,298.4 L356.9,299.4 L357.4,299.9 L357.9,299.4 L358.4,300.3 L358.9,300.0 L359.4,300.1 L359.9,300.7 L360.4,300.4 L360.9,300.6 L361.4,300.9 L361.9,301.4 L362.4,301.5 L362.9,302.2 L363.4,302.0 L363.9,301.8 L364.4,301.3 L364.9,301.2 L365.4,301.0 L365.9,300.8 L366.4,301.2 L366.9,301.1 L367.4,301.2 L367.9,301.3 L368.4,301.2 L368.9,300.3 L369.4,300.7 L369.9,300.9 L370.4,300.1 L370.9,300.1 L371.4,299.5 L371.9,299.4 L372.4,299.9 L372.9,299.9 L373.4,299.2 L373.9,298.8 L374.4,299.0 L374.9,298.5 L375.4,298.3 L375.9,298.1 L376.4,297.9 L376.9,297.9 L377.4,297.7 L377.9,297.5 L378.4,297.0 L378.9,296.8 L379.4,296.6 L379.9,296.5 L380.4,296.6 L380.9,295.9 L381.4,295.8 L381.9,296.6 L382.4,296.0 L382.9,296.9 L383.4,296.6 L383.9,296.5 L384.4,296.6 L384.9,297.0 L385.4,297.0 L385.9,297.1 L386.4,297.3 L386.9,297.6 L387.4,297.5 L387.9,297.9 L388.4,298.2 L388.9,297.9 L389.4,297.7 L389.9,297.5 L390.4,297.6 L390.9,298.0 L391.4,297.4 L391.9,297.2 L392.4,297.2 L392.9,296.6 L393.4,297.4 L393.9,296.6 L394.4,296.8 L394.9,296.6 L395.4,296.6 L395.9,296.4 L396.4,295.2 L396.9,294.6 L397.4,294.5 L397.9,293.6 L398.4,293.1 L398.9,292.7 L399.4,293.0 L399.9,291.8 L400.4,291.7 L400.9,291.1 L401.4,290.1 L401.9,290.3 L402.4,289.1 L402.9,288.7 L403.4,289.2 L403.9,288.4 L404.4,288.1 L404.9,287.9 L404.9,303.4 L404.4,302.8 L403.9,303.4 L403.4,302.7 L402.9,302.9 L402.4,302.7 L401.9,303.0 L401.4,303.6 L400.9,303.9 L400.4,303.8 L399.9,304.7 L399.4,304.7 L398.9,304.7 L398.4,306.0 L397.9,306.4 L397.4,306.7 L396.9,306.5 L396.4,307.4 L395.9,307.6 L395.4,308.0 L394.9,307.8 L394.4,308.0 L393.9,307.8 L393.4,308.4 L392.9,308.1 L392.4,308.5 L391.9,308.0 L391.4,308.7 L390.9,308.8 L390.4,308.9 L389.9,308.9 L389.4,309.1 L388.9,308.7 L388.4,308.9 L387.9,309.0 L387.4,309.0 L386.9,309.4 L386.4,309.6 L385.9,310.6 L385.4,310.7 L384.9,311.0 L384.4,311.1 L383.9,311.4 L383.4,311.6 L382.9,312.1 L382.4,312.4 L381.9,312.4 L381.4,312.2 L380.9,312.3 L380.4,313.4 L379.9,313.6 L379.4,313.7 L378.9,313.9 L378.4,314.4 L377.9,314.7 L377.4,314.6 L376.9,315.5 L376.4,315.8 L375.9,315.4 L375.4,315.5 L374.9,316.0 L374.4,316.3 L373.9,315.5 L373.4,315.5 L372.9,316.5 L372.4,316.5 L371.9,315.9 L371.4,316.7 L370.9,316.6 L370.4,316.2 L369.9,317.0 L369.4,316.5 L368.9,316.5 L368.4,316.1 L367.9,315.2 L367.4,316.0 L366.9,315.8 L366.4,315.4 L365.9,315.2 L365.4,315.0 L364.9,314.6 L364.4,314.9 L363.9,313.7 L363.4,314.5 L362.9,314.2 L362.4,313.7 L361.9,313.1 L361.4,312.6 L360.9,311.4 L360.4,311.1 L359.9,311.0 L359.4,309.7 L358.9,309.5 L358.4,308.5 L357.9,308.9 L357.4,308.5 L356.9,308.2 L356.4,307.8 L355.9,307.0Z" fill="#f00"/>
<path d="M355.9,299.1 356.2,306.4 356.5,299.6 356.8,306.1 357.1,301.0 357.4,306.3 357.7,300.8 358.0,309.1 358.3,300.2 358.6,308.5 358.9,299.6 359.2,308.9 359.5,300.2 359.8,309.2 360.1,301.8 360.4,310.5 360.7,301.2 361.0,311.5 361.3,302.2 361.6,313.0 361.9,301.1 362.2,311.1 362.5,303.0 362.8,313.1 363.1,301.1 363.4,312.5 363.7,301.5 364.0,312.4 364.3,302.1 364.6,315.0 364.9,299.7 365.2,314.5 365.5,304.3 365.8,316.0 366.1,300.9 366.4,314.3 366.7,304.0 367.0,312.1 367.3,303.7 367.6,314.0 367.9,298.3 368.2,315.5 368.5,301.3 368.8,316.4 369.1,303.5 369.4,317.1 369.7,303.1 370.0,317.1 370.3,298.6 370.6,315.8 370.9,302.3 371.2,315.1 371.5,303.2 371.8,317.5 372.1,297.7 372.4,313.9 372.7,299.8 373.0,313.3 373.3,302.2 373.6,315.0 373.9,300.5 374.2,316.0 374.5,301.1 374.8,315.3 375.1,301.1 375.4,312.7 375.7,300.4 376.0,312.1 376.3,300.7 376.6,316.3 376.9,299.9 377.2,314.1 377.5,298.1 377.8,311.5 378.1,297.4 378.4,310.8 378.7,300.1 379.0,312.9 379.3,297.8 379.6,312.0 379.9,297.1 380.2,309.5 380.5,297.3 380.8,312.8 381.1,297.4 381.4,308.8 381.7,294.1 382.0,311.9 382.3,297.3 382.6,311.0 382.9,299.0 383.2,310.3 383.5,299.2 383.8,311.9 384.1,298.5 384.4,309.1 384.7,299.5 385.0,308.4 385.3,295.7 385.6,309.9 385.9,297.0 386.2,308.4 386.5,297.4 386.8,309.9 387.1,297.0 387.4,308.4 387.7,299.9 388.0,307.3 388.3,298.7 388.6,307.0 388.9,296.9 389.2,307.8 389.5,297.9 389.8,308.7 390.1,297.6 390.4,308.4 390.7,298.9 391.0,307.8 391.3,296.6 391.6,307.3 391.9,296.8 392.2,306.5 392.5,297.7 392.8,307.1 393.1,296.9 393.4,308.4 393.7,298.1 394.0,307.4 394.3,296.7 394.6,307.3 394.9,296.6 395.2,307.6 395.5,298.2 395.8,305.7 396.1,297.9 396.4,307.7 396.7,295.1 397.0,306.9 397.3,294.7 397.6,307.4 397.9,293.9 398.2,304.2 398.5,293.7 398.8,305.8 399.1,291.6 399.4,302.8 399.7,290.8 400.0,304.9 400.3,292.6 400.6,302.9 400.9,292.5 401.2,302.6 401.5,289.0 401.8,301.1 402.1,292.7 402.4,299.8 402.7,290.5 403.0,301.8 403.3,290.8 403.6,302.0 403.9,289.4 404.2,303.5 404.5,289.4 404.8,303.7 405.0,287.8" fill="none" stroke="#f00" stroke-width="0.8"/>
<path d="M405.5,266.0 L406.0,266.7 L406.5,266.7 L407.0,266.4 L407.5,265.9 L408.0,265.9 L408.5,266.5 L409.0,266.1 L409.0,280.9 L408.5,280.5 L408.0,280.0 L407.5,280.5 L407.0,279.9 L406.5,279.4 L406.0,279.6 L405.5,279.5Z" fill="#f00"/>
<path d="M405.5,265.8 405.8,276.5 406.1,265.9 406.4,280.4 406.7,268.6 407.0,280.1 407.3,265.2 407.6,281.0 407.9,268.0 408.2,280.0 408.5,266.4 408.8,279.0 409.0,266.8" fill="none" stroke="#f00" stroke-width="0.8"/>
<path d="M411.0,235.0 L411.5,236.3 L412.0,237.5 L412.5,237.8 L413.0,238.7 L413.5,240.4 L414.0,242.7 L414.5,245.1 L415.0,249.2 L415.5,252.2 L416.0,255.8 L416.5,258.0 L417.0,258.7 L417.5,258.9 L418.0,259.0 L418.5,260.1 L419.0,259.5 L419.5,259.8 L420.0,260.2 L420.5,260.4 L421.0,260.2 L421.5,260.5 L422.0,260.2 L422.5,260.5 L423.0,260.1 L423.5,260.5 L424.0,260.0 L424.5,260.4 L425.0,260.1 L425.5,260.1 L426.0,260.6 L426.5,260.4 L427.0,260.0 L427.5,261.0 L428.0,260.0 L428.5,260.1 L429.0,260.0 L429.5,260.9 L430.0,260.8 L430.5,259.8 L431.0,260.2 L431.5,260.3 L432.0,259.2 L432.5,259.0 L433.0,258.8 L433.5,259.4 L434.0,258.4 L434.5,258.5 L435.0,258.3 L435.5,258.2 L436.0,257.7 L436.5,257.8 L437.0,257.5 L437.5,257.8 L438.0,257.7 L438.5,257.1 L439.0,257.1 L439.5,256.7 L440.0,257.4 L440.5,256.5 L441.0,256.8 L441.5,256.9 L442.0,256.2 L442.5,256.6 L443.0,256.3 L443.5,256.5 L444.0,255.8 L444.5,256.2 L444.5,265.6 L444.0,266.0 L443.5,266.0 L443.0,265.0 L442.5,266.0 L442.0,265.9 L441.5,266.0 L441.0,265.3 L440.5,266.0 L440.0,265.7 L439.5,266.1 L439.0,266.2 L438.5,266.3 L438.0,265.7 L437.5,266.5 L437.0,266.6 L436.5,266.6 L436.0,266.8 L435.5,266.3 L435.0,266.6 L434.5,266.4 L434.0,266.5 L433.5,266.5 L433.0,266.9 L432.5,267.3 L432.0,267.1 L431.5,267.3 L431.0,267.9 L430.5,268.1 L430.0,268.1 L429.5,267.8 L429.0,267.7 L428.5,267.3 L428.0,268.2 L427.5,267.6 L427.0,268.2 L426.5,267.7 L426.0,267.5 L425.5,268.0 L425.0,267.2 L424.5,268.2 L424.0,267.4 L423.5,268.0 L423.0,267.8 L422.5,267.7 L422.0,268.0 L421.5,268.2 L421.0,268.2 L420.5,267.7 L420.0,267.9 L419.5,269.1 L419.0,269.8 L418.5,270.9 L418.0,271.9 L417.5,270.9 L417.0,269.9 L416.5,269.9 L416.0,266.2 L415.5,263.0 L415.0,259.4 L414.5,257.0 L414.0,254.3 L413.5,252.3 L413.0,249.3 L412.5,247.4 L412.0,244.8 L411.5,241.6 L411.0,239.2Z" fill="#f00"/>
<path d="M411.0,235.6 411.3,241.0 411.6,235.9 411.9,243.5 412.2,237.9 412.5,245.7 412.8,238.3 413.1,250.2 413.4,238.3 413.7,252.4 414.0,243.4 414.3,255.0 414.6,245.9 414.9,256.9 415.2,251.7 415.5,262.3 415.8,255.9 416.1,266.5 416.4,257.5 416.7,268.9 417.0,258.4 417.3,269.8 417.6,261.0 417.9,272.4 418.2,259.7 418.5,270.1 418.8,262.1 419.1,268.8 419.4,259.4 419.7,268.8 420.0,259.8 420.3,268.0 420.6,259.4 420.9,268.2 421.2,259.7 421.5,267.9 421.8,261.0 422.1,267.1 422.4,260.5 422.7,268.4 423.0,260.4 423.3,266.4 423.6,260.9 423.9,267.3 424.2,260.6 424.5,268.1 424.8,260.7 425.1,268.0 425.4,261.6 425.7,268.1 426.0,260.4 426.3,267.6 426.6,261.3 426.9,266.7 427.2,261.9 427.5,266.5 427.8,261.7 428.1,267.0 428.4,261.4 428.7,268.2 429.0,261.9 429.3,267.0 429.6,261.4 429.9,267.9 430.2,261.9 430.5,266.9 430.8,260.1 431.1,268.6 431.4,258.1 431.7,267.4 432.0,258.8 432.3,267.1 432.6,260.1 432.9,267.5 433.2,259.3 433.5,265.7 433.8,258.9 434.1,266.4 434.4,259.6 434.7,265.1 435.0,258.5 435.3,266.4 435.6,258.8 435.9,266.1 436.2,257.8 436.5,265.6 436.8,257.9 437.1,266.3 437.4,258.0 437.7,264.4 438.0,257.2 438.3,264.7 438.6,257.1 438.9,264.2 439.2,258.7 439.5,265.5 439.8,258.5 440.1,265.8 440.4,258.5 440.7,264.2 441.0,257.3 441.3,265.8 441.6,257.1 441.9,263.6 442.2,256.5 442.5,264.5 442.8,255.9 443.1,264.3 443.4,256.4 443.7,264.7 444.0,255.3 444.3,264.0 444.6,257.9 444.8,263.7" fill="none" stroke="#f00" stroke-width="0.8"/>
<path d="M445.5,223.7 L446.0,223.9 L446.5,222.7 L447.0,222.4 L447.5,221.8 L448.0,221.6 L448.5,220.9 L449.0,220.3 L449.5,219.9 L450.0,219.6 L450.5,219.1 L451.0,218.8 L451.5,218.7 L452.0,218.5 L452.5,217.5 L453.0,217.4 L453.5,217.4 L454.0,217.2 L454.5,217.1 L455.0,217.0 L455.0,230.6 L454.5,230.1 L454.0,230.5 L453.5,230.1 L453.0,230.2 L452.5,229.2 L452.0,229.8 L451.5,230.3 L451.0,230.6 L450.5,229.9 L450.0,230.3 L449.5,231.3 L449.0,230.9 L448.5,231.7 L448.0,231.6 L447.5,232.2 L447.0,233.1 L446.5,233.4 L446.0,233.7 L445.5,233.6Z" fill="#f00"/>
<path d="M445.5,224.2 445.8,232.7 446.1,223.4 446.4,234.5 446.7,222.9 447.0,231.8 447.3,224.3 447.6,232.1 447.9,222.9 448.2,232.2 448.5,221.3 448.8,229.2 449.1,222.9 449.4,232.7 449.7,220.0 450.0,230.4 450.3,220.5 450.6,229.7 450.9,220.0 451.2,228.6 451.5,218.3 451.8,228.3 452.1,218.2 452.4,227.1 452.7,215.8 453.0,228.5 453.3,219.5 453.6,229.8 453.9,218.3 454.2,231.1 454.5,219.1 454.8,229.5 455.0,216.9" fill="none" stroke="#f00" stroke-width="0.8"/>
<path d="M455.2,217.5 L455.7,217.4 L456.2,217.9 L456.7,217.1 L457.2,217.9 L457.7,217.2 L457.7,253.4 L457.2,254.3 L456.7,254.1 L456.2,253.7 L455.7,254.3 L455.2,253.8Z" fill="#f00"/>
<path d="M455.2,225.4 455.5,247.5 455.8,220.3 456.1,253.1 456.4,219.0 456.7,254.0 457.0,220.5 457.3,254.2 457.6,224.9 457.9,252.4 458.0,221.1" fill="none" stroke="#f00" stroke-width="0.8"/>
<path d="M458.1,225.9 L458.6,226.5 L459.1,226.6 L459.6,227.4 L460.1,227.6 L460.6,228.1 L461.1,228.0 L461.6,228.4 L462.1,229.4 L462.6,229.8 L463.1,229.8 L463.6,229.8 L464.1,230.7 L464.1,252.1 L463.6,252.0 L463.1,252.5 L462.6,251.9 L462.1,252.5 L461.6,253.0 L461.1,252.6 L460.6,252.5 L460.1,253.2 L459.6,253.1 L459.1,253.0 L458.6,254.1 L458.1,254.3Z" fill="#f00"/>
<path d="M458.1,226.2 458.4,254.0 458.7,226.2 459.0,253.2 459.3,233.3 459.6,256.1 459.9,233.5 460.2,251.6 460.5,229.4 460.8,250.3 461.1,228.3 461.4,252.1 461.7,231.0 462.0,252.7 462.3,233.1 462.6,249.8 462.9,234.2 463.2,252.2 463.5,233.6 463.8,248.3 464.1,232.6 464.4,251.9 464.5,230.3" fill="none" stroke="#f00" stroke-width="0.8"/>
<path d="M464.6,234.6 L465.1,234.2 L465.6,234.6 L466.1,234.3 L466.6,234.8 L467.1,234.9 L467.6,234.8 L468.1,235.3 L468.6,235.2 L469.1,235.5 L469.6,236.1 L470.1,236.3 L470.1,257.8 L469.6,258.5 L469.1,259.3 L468.6,259.2 L468.1,259.5 L467.6,260.2 L467.1,260.7 L466.6,260.3 L466.1,259.7 L465.6,258.8 L465.1,258.6 L464.6,257.4Z" fill="#f00"/>
<path d="M464.6,235.2 464.9,254.3 465.2,235.1 465.5,256.0 465.8,234.1 466.1,254.7 466.4,234.9 466.7,260.6 467.0,235.1 467.3,257.3 467.6,237.4 467.9,257.3 468.2,235.4 468.5,256.6 468.8,239.2 469.1,254.7 469.4,235.9 469.7,256.1 470.0,239.7 470.3,256.9" fill="none" stroke="#f00" stroke-width="0.8"/>
<path d="M470.4,245.3 L470.9,244.4 L471.4,244.6 L471.9,243.6 L472.4,242.9 L472.9,242.3 L473.4,242.6 L473.9,241.2 L474.4,241.0 L474.9,240.1 L475.4,240.2 L475.9,239.1 L476.4,238.6 L476.9,238.0 L477.4,238.1 L477.9,237.0 L478.4,236.5 L478.9,236.7 L479.4,235.5 L479.9,235.1 L480.4,234.4 L480.4,246.0 L479.9,246.4 L479.4,246.3 L478.9,247.3 L478.4,247.4 L477.9,248.1 L477.4,248.5 L476.9,248.9 L476.4,248.4 L475.9,249.6 L475.4,250.0 L474.9,250.0 L474.4,250.9 L473.9,251.2 L473.4,251.0 L472.9,252.2 L472.4,252.3 L471.9,253.1 L471.4,252.6 L470.9,253.7 L470.4,253.7Z" fill="#f00"/>
<path d="M470.4,247.1 470.7,253.9 471.0,244.9 471.3,253.6 471.6,245.0 471.9,252.3 472.2,244.7 472.5,253.4 472.8,241.6 473.1,251.2 473.4,242.2 473.7,249.1 474.0,243.2 474.3,251.1 474.6,241.3 474.9,250.2 475.2,241.8 475.5,250.6 475.8,239.3 476.1,247.1 476.4,239.8 476.7,248.4 477.0,238.9 477.3,247.6 477.6,236.3 477.9,247.3 478.2,238.4 478.5,248.2 478.8,235.9 479.1,245.6 479.4,237.8 479.7,244.8 480.0,237.3 480.3,244.6 480.5,236.7" fill="none" stroke="#f00" stroke-width="0.8"/>
<path d="M483.5,231.7 L484.0,231.6 L484.5,231.5 L485.0,230.9 L485.5,230.2 L486.0,230.3 L486.5,230.1 L487.0,230.6 L487.5,230.0 L487.5,249.2 L487.0,248.5 L486.5,248.7 L486.0,249.1 L485.5,248.8 L485.0,249.3 L484.5,249.4 L484.0,250.2 L483.5,249.7Z" fill="#f00"/>
<path d="M483.5,232.2 483.8,248.7 484.1,234.6 484.4,249.7 484.7,234.1 485.0,247.6 485.3,230.6 485.6,248.4 485.9,234.1 486.2,245.8 486.5,229.0 486.8,246.5 487.1,230.8 487.4,247.0 487.7,229.5 487.9,246.1" fill="none" stroke="#f00" stroke-width="0.8"/>
<path d="M488.0,236.5 L488.5,237.3 L489.0,236.4 L489.5,236.4 L490.0,236.6 L490.5,236.6 L491.0,236.7 L491.5,237.0 L492.0,236.4 L492.5,237.0 L493.0,237.2 L493.5,236.6 L494.0,236.9 L494.5,236.4 L494.5,248.1 L494.0,247.3 L493.5,248.1 L493.0,247.2 L492.5,248.2 L492.0,247.6 L491.5,248.1 L491.0,247.5 L490.5,248.2 L490.0,247.7 L489.5,248.1 L489.0,247.9 L488.5,248.5 L488.0,249.2Z" fill="#f00"/>
<path d="M488.0,236.6 488.3,248.7 488.6,237.4 488.9,249.9 489.2,239.2 489.5,246.1 489.8,238.9 490.1,247.0 490.4,235.6 490.7,247.6 491.0,236.2 491.3,247.0 491.6,235.9 491.9,246.5 492.2,237.2 492.5,247.2 492.8,237.1 493.1,247.1 493.4,237.8 493.7,248.2 494.0,237.7 494.3,247.5 494.5,237.9" fill="none" stroke="#f00" stroke-width="0.8"/>
<path d="M92.5,179.6V188.5M94.5,176.9V188.3M97.5,173.3V183.4M104.5,164.0V171.2M107.5,161.2V169.8M112.5,190.4V176.1M114.5,190.1V175.0M116.5,190.5V179.0M118.5,191.4V180.3M120.5,192.5V177.9M123.5,195.3V182.1M125.5,197.3V187.1M127.5,198.4V186.1M130.5,200.7V191.2M133.5,203.8V195.2M135.5,206.8V198.1M137.5,209.3V199.8M139.5,210.7V202.1M141.5,212.1V202.0M143.5,214.9V208.3M145.5,217.3V208.0M147.5,219.4V211.1M149.5,221.5V214.1M150.5,222.5V215.6M153.5,225.5V220.0M155.5,227.5V222.4M157.5,230.7V225.7M160.5,236.8V232.5M162.5,242.2V237.4M164.5,246.1V239.5M456.5,228.4V238.8M458.5,238.7V248.4M460.5,237.1V241.1M463.5,237.7V245.9M466.5,242.9V249.1M359.5,298.1V303.4M362.5,299.2V305.5M365.5,298.9V303.6M367.5,298.5V305.5M369.5,298.1V305.9M372.5,297.2V304.3M374.5,296.5V302.7M376.5,295.8V302.9M378.5,294.9V302.4M380.5,294.1V299.2M382.5,294.0V301.0M385.5,312.9V308.2M387.5,311.9V307.7M389.5,311.1V307.2M392.5,310.5V305.5M394.5,310.1V305.4M396.5,309.3V305.8M398.5,308.0V303.6M401.5,305.9V300.9M403.5,305.2V301.7M417.5,273.3V269.9M420.5,270.2V266.5M422.5,270.2V265.9M424.5,270.2V266.0M426.5,270.2V265.8M428.5,270.2V267.3M430.5,270.1V266.9M433.5,269.4V265.1M435.5,268.9V265.4M437.5,268.5V265.5M439.5,268.1V264.9M442.5,268.0V263.2" stroke="#fff" stroke-width="0.9" fill="none"/>
<path d="M445.3,234 L450,234.5 L453,232.7 L455.7,238.8 L455.7,242 L452,244.9 L449,246.6 L445.3,248Z" fill="#00f"/>
<path d="M446.8,235 L451.5,230.8 L452.3,232.6 L447.6,236.8Z" fill="#fff" opacity="0.85"/>
<rect x="445" y="247" width="2.5" height="2" fill="#f00"/>
<rect x="60.9" y="37.0" width="1.3" height="263.0" fill="#f00"/>
<rect x="82.4" y="212.0" width="1.2" height="7.0" fill="#f00"/>
<rect x="85.0" y="212.0" width="1.0" height="7.3" fill="#f00"/>
<rect x="60.0" y="60.5" width="2.3" height="6.0" fill="#f00"/>
<rect x="66.1" y="220.0" width="1.2" height="80.0" fill="#f00"/>
<rect x="79.8" y="240.0" width="1.0" height="42.0" fill="#f00"/>
<rect x="81.5" y="212.0" width="1.5" height="78.0" fill="#f00"/>
<rect x="63.2" y="284.0" width="1.0" height="8.0" fill="#f00"/>
<rect x="64.7" y="270.0" width="1.2" height="16.7" fill="#00f"/>
<rect x="76.4" y="257.5" width="1.2" height="19.2" fill="#00f"/>
<rect x="79.3" y="215.7" width="1.2" height="55.3" fill="#00f"/>
<rect x="196.2" y="211.7" width="1.6" height="79.3" fill="#f44"/>
<rect x="227.6" y="297.0" width="1.2" height="20.5" fill="#f00"/>
<rect x="272.8" y="272.0" width="1.0" height="30.0" fill="#f00"/>
<rect x="193.2" y="283.5" width="3.2" height="6.5" fill="#00f"/>
<rect x="259.8" y="277.0" width="1.2" height="19.0" fill="#00f"/>
<rect x="264.8" y="275.0" width="1.2" height="19.0" fill="#00f"/>
<rect x="264.0" y="280.7" width="1.2" height="13.3" fill="#00f"/>
<rect x="302.9" y="280.0" width="4.0" height="14.3" fill="#f00"/>
<rect x="310.0" y="280.0" width="4.3" height="14.3" fill="#f00"/>
<rect x="315.1" y="257.1" width="1.2" height="17.9" fill="#f00"/>
<rect x="327.1" y="288.6" width="1.5" height="11.4" fill="#00f"/>
<rect x="335.8" y="281.4" width="1.2" height="13.6" fill="#f00"/>
<rect x="342.3" y="262.9" width="1.2" height="27.1" fill="#f00"/>
<rect x="344.7" y="187.9" width="1.4" height="102.1" fill="#f44"/>
<rect x="347.3" y="267.9" width="1.2" height="22.1" fill="#f00"/>
<rect x="349.4" y="274.3" width="1.2" height="15.7" fill="#f00"/>
<rect x="351.5" y="265.0" width="1.2" height="19.3" fill="#00f"/>
<rect x="363.0" y="287.0" width="1.2" height="18.0" fill="#f00"/>
<rect x="369.4" y="289.3" width="1.2" height="15.7" fill="#f00"/>
<rect x="374.4" y="290.7" width="1.2" height="14.3" fill="#f00"/>
<rect x="378.0" y="280.0" width="1.2" height="25.0" fill="#f00"/>
<rect x="369.9" y="304.0" width="1.5" height="11.7" fill="#00f"/>
<rect x="376.3" y="305.7" width="3.0" height="11.3" fill="#00f"/>
<rect x="378.7" y="279.3" width="1.2" height="20.7" fill="#f00"/>
<rect x="404.4" y="272.9" width="1.2" height="32.8" fill="#f00"/>
<rect x="404.7" y="250.0" width="1.3" height="22.9" fill="#00f"/>
<rect x="408.6" y="227.0" width="1.5" height="46.0" fill="#f00"/>
<rect x="409.7" y="215.7" width="1.8" height="51.3" fill="#f00"/>
<rect x="417.9" y="249.0" width="1.2" height="13.0" fill="#f00"/>
<rect x="423.4" y="245.2" width="1.2" height="16.8" fill="#f00"/>
<rect x="430.7" y="246.3" width="2.2" height="15.7" fill="#f00"/>
<rect x="416.9" y="266.0" width="1.2" height="10.8" fill="#f00"/>
<rect x="425.9" y="266.0" width="1.2" height="6.5" fill="#f00"/>
<rect x="435.9" y="267.0" width="1.2" height="7.6" fill="#00f"/>
<rect x="440.5" y="267.0" width="4.4" height="9.8" fill="#00f"/>
<rect x="444.1" y="206.4" width="1.1" height="70.4" fill="#f00"/>
<rect x="455.8" y="204.3" width="1.2" height="25.7" fill="#f00"/>
<rect x="461.4" y="209.3" width="1.2" height="22.7" fill="#f00"/>
<rect x="469.0" y="250.7" width="2.4" height="7.8" fill="#00f"/>
<rect x="470.4" y="232.9" width="1.0" height="17.1" fill="#f00"/>
<rect x="480.5" y="209.3" width="3.0" height="32.5" fill="#f00"/>
<rect x="481.4" y="221.4" width="1.4" height="4.3" fill="#00f"/>
<rect x="491.0" y="103.6" width="1.4" height="136.4" fill="#f44"/>
<rect x="492.2" y="203.6" width="1.4" height="32.0" fill="#00f"/>
<rect x="53.3" y="9.5" width="475.9" height="358.6" fill="none" stroke="#1c1c1c" stroke-width="1.4"/>
<path d="M46.8,368.10H53.3M50.9,357.85H53.3M50.9,347.61H53.3M50.9,337.36H53.3M50.9,327.12H53.3M46.8,316.87H53.3M50.9,306.63H53.3M50.9,296.38H53.3M50.9,286.13H53.3M50.9,275.89H53.3M46.8,265.64H53.3M50.9,255.40H53.3M50.9,245.15H53.3M50.9,234.91H53.3M50.9,224.66H53.3M46.8,214.41H53.3M50.9,204.17H53.3M50.9,193.92H53.3M50.9,183.68H53.3M50.9,173.43H53.3M46.8,163.19H53.3M50.9,152.94H53.3M50.9,142.69H53.3M50.9,132.45H53.3M50.9,122.20H53.3M46.8,111.96H53.3M50.9,101.71H53.3M50.9,91.47H53.3M50.9,81.22H53.3M50.9,70.97H53.3M46.8,60.73H53.3M50.9,50.48H53.3M50.9,40.24H53.3M50.9,29.99H53.3M50.9,19.75H53.3M46.8,9.50H53.3M53.30,368.1V373.1M87.29,368.1V371.1M121.29,368.1V373.1M155.28,368.1V371.1M189.27,368.1V373.1M223.26,368.1V371.1M257.26,368.1V373.1M291.25,368.1V371.1M325.24,368.1V373.1M359.24,368.1V371.1M393.23,368.1V373.1M427.22,368.1V371.1M461.21,368.1V373.1M495.21,368.1V371.1M529.20,368.1V373.1" stroke="#1c1c1c" stroke-width="1.3" fill="none"/>
<text x="42.8" y="371.6" font-size="11" text-anchor="end">1</text>
<text x="42.8" y="320.4" font-size="11" text-anchor="end">1.5</text>
<text x="42.8" y="269.1" font-size="11" text-anchor="end">2</text>
<text x="42.8" y="217.9" font-size="11" text-anchor="end">2.5</text>
<text x="42.8" y="166.7" font-size="11" text-anchor="end">3</text>
<text x="42.8" y="115.5" font-size="11" text-anchor="end">3.5</text>
<text x="42.8" y="64.2" font-size="11" text-anchor="end">4</text>
<text x="42.8" y="13.0" font-size="11" text-anchor="end">4.5</text>
<text x="53.2" y="388.1" font-size="11.2" text-anchor="middle">30,000</text>
<text x="121.2" y="388.1" font-size="11.2" text-anchor="middle">32,000</text>
<text x="189.2" y="388.1" font-size="11.2" text-anchor="middle">34,000</text>
<text x="257.2" y="388.1" font-size="11.2" text-anchor="middle">36,000</text>
<text x="325.1" y="388.1" font-size="11.2" text-anchor="middle">38,000</text>
<text x="393.1" y="388.1" font-size="11.2" text-anchor="middle">40,000</text>
<text x="461.1" y="388.1" font-size="11.2" text-anchor="middle">42,000</text>
<text x="529.1" y="388.1" font-size="11.2" text-anchor="middle">44,000</text>
<text x="291.1" y="413" font-size="14.5" text-anchor="middle" textLength="152.6" lengthAdjust="spacingAndGlyphs">Measurement epoch [s]</text>
<text transform="translate(15,189.3) rotate(-90)" font-size="14.2" text-anchor="middle" textLength="53.6" lengthAdjust="spacingAndGlyphs">Value [-]</text>
<rect x="112.5" y="56.5" width="173" height="41.4" fill="#fff" stroke="#222" stroke-width="1.4"/>
<rect x="119" y="68" width="47" height="1.6" fill="#00f"/>
<rect x="119" y="83.7" width="47" height="1.6" fill="#f00"/>
<text x="175.2" y="70.8" font-size="9.8" style="stroke-width:0.55px;stroke:#222" textLength="100.4" lengthAdjust="spacing">PDOP (receiver Rx1)</text>
<text x="175.2" y="86.8" font-size="9.8" style="stroke-width:0.55px;stroke:#222" textLength="100.4" lengthAdjust="spacing">PDOP (receiver Rx2)</text>
</svg></body></html>
